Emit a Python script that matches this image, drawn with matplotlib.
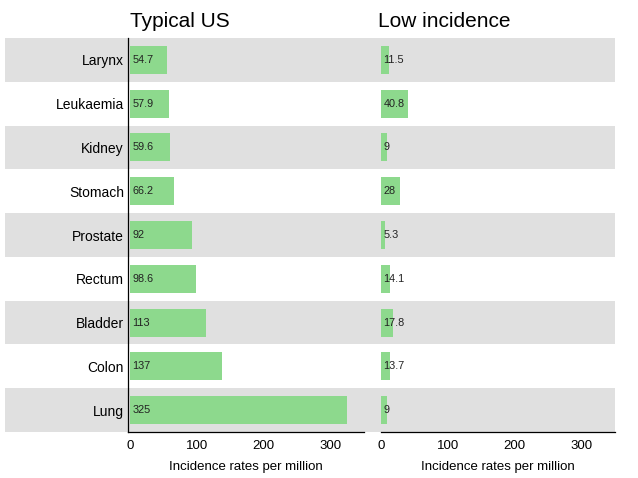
import numpy as np
import matplotlib.pyplot as plt

plt.rcParams['font.family'] = ['Liberation Sans', 'DejaVu Sans']

cancers = ['Larynx', 'Leukaemia', 'Kidney', 'Stomach', 'Prostate',
           'Rectum', 'Bladder', 'Colon', 'Lung']
typical_us = [54.7, 57.9, 59.6, 66.2, 92, 98.6, 113, 137, 325]
low_incidence = [11.5, 40.8, 9, 28, 5.3, 14.1, 17.8, 13.7, 9]
typical_lbl = ['54.7', '57.9', '59.6', '66.2', '92', '98.6', '113', '137', '325']
low_lbl = ['11.5', '40.8', '9', '28', '5.3', '14.1', '17.8', '13.7', '9']
ticks = [0, 100, 200, 300]

W, H = 638, 478
fig = plt.figure(figsize=(W / 100, H / 100), dpi=100)

def box(x0, y0, x1, y1):
    # pixel box (from top-left) -> figure fraction
    return [x0 / W, 1 - y1 / H, (x1 - x0) / W, (y1 - y0) / H]

n = len(cancers)
y = np.arange(n)

# gray row bands across whole figure
bg = fig.add_axes(box(5, 38, 615, 432))
bg.set_xlim(0, 1)
bg.set_ylim(n - 0.5, -0.5)
for i in range(0, n, 2):
    bg.axhspan(i - 0.5, i + 0.5, color='#e0e0e0', lw=0)
bg.axis('off')

green = '#8dd98d'

ax1 = fig.add_axes(box(128, 38, 364, 432))
ax2 = fig.add_axes(box(381, 38, 615, 432))

for ax, vals, lbls, title in [(ax1, typical_us, typical_lbl, 'Typical US'),
                              (ax2, low_incidence, low_lbl, 'Low incidence')]:
    ax.patch.set_alpha(0)
    ax.barh(y, vals, height=0.64, color=green)
    for yi, lb in zip(y, lbls):
        ax.text(3.5, yi, lb, va='center', ha='left', fontsize=7.8, color='#222222')
    ax.set_ylim(n - 0.5, -0.5)
    ax.set_xticks(ticks)
    ax.tick_params(axis='x', length=0, labelsize=9.5, pad=6)
    ax.set_xlabel('Incidence rates per million', fontsize=9.5, labelpad=6)
    for s in ['top', 'right']:
        ax.spines[s].set_visible(False)
    ax.spines['bottom'].set_linewidth(0.9)

ax1.set_title('Typical US', fontsize=15, loc='left', pad=8, x=0.01)
ax2.set_title('Low incidence', fontsize=15, loc='left', pad=8, x=-0.013)

ax1.set_xlim(-3, 350)
ax2.set_xlim(0, 350)
ax1.set_yticks(y)
ax1.set_yticklabels(cancers, fontsize=10)
ax1.tick_params(axis='y', length=0, pad=3)
ax1.spines['left'].set_linewidth(0.9)
ax2.set_yticks([])
ax2.spines['left'].set_visible(False)

fig.savefig('out.png', dpi=100)
